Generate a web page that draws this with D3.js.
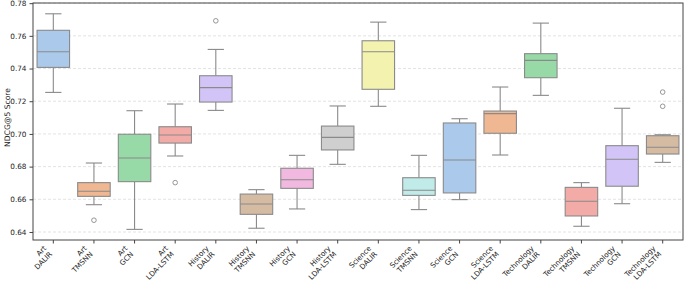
<!DOCTYPE html>
<html>
<head>
<meta charset="utf-8">
<script src="https://cdn.jsdelivr.net/npm/d3@7"></script>
<style>
  body { margin: 0; background: #fff; }
  svg { display: block; font-family: "DejaVu Sans", sans-serif; }
</style>
</head>
<body>
<div class="canvas"></div>
<script>
// box plot summaries (NDCG@5 per topic / model)
var topics = ['Art', 'Art', 'Art', 'Art', 'History', 'History', 'History', 'History',
              'Science', 'Science', 'Science', 'Science', 'Technology', 'Technology', 'Technology', 'Technology'];
var models = ['DALIR', 'TMSNN', 'GCN', 'LDA-LSTM', 'DALIR', 'TMSNN', 'GCN', 'LDA-LSTM',
              'DALIR', 'TMSNN', 'GCN', 'LDA-LSTM', 'DALIR', 'TMSNN', 'GCN', 'LDA-LSTM'];
var whiskerLow  = [0.7254, 0.6567, 0.6416, 0.6865, 0.7144, 0.6423, 0.6541, 0.6814,
                   0.7169, 0.6537, 0.6598, 0.6871, 0.7236, 0.6435, 0.6573, 0.6826];
var q1          = [0.7407, 0.6618, 0.6708, 0.6944, 0.7195, 0.6508, 0.6667, 0.6902,
                   0.7273, 0.6624, 0.6639, 0.7004, 0.7344, 0.6498, 0.6680, 0.6877];
var medians     = [0.7503, 0.6649, 0.6853, 0.6993, 0.7283, 0.6571, 0.6720, 0.6979,
                   0.7503, 0.6655, 0.6840, 0.7124, 0.7450, 0.6588, 0.6845, 0.6918];
var q3          = [0.7634, 0.6702, 0.6998, 0.7044, 0.7356, 0.6632, 0.6790, 0.7048,
                   0.7570, 0.6732, 0.7067, 0.7140, 0.7491, 0.6673, 0.6928, 0.6989];
var whiskerHigh = [0.7735, 0.6822, 0.7142, 0.7183, 0.7517, 0.6659, 0.6869, 0.7171,
                   0.7684, 0.6869, 0.7093, 0.7287, 0.7678, 0.6702, 0.7157, 0.6995];
var outliers    = [[], [0.6472], [], [0.6702], [0.7692], [], [], [],
                   [], [], [], [], [], [], [], [0.7256, 0.7169]];
var yTicks = [0.64, 0.66, 0.68, 0.70, 0.72, 0.74, 0.76, 0.78];
var palette = ['#a1c9f4', '#ffb482', '#8de5a1', '#ff9f9b', '#d0bbff',
               '#debb9b', '#fab0e4', '#cfcfcf', '#fffea3', '#b9f2f0'];

var width = 685, height = 281;
var plotLeft = 33, plotRight = 683, plotTop = 3, plotBottom = 240;
var fs = 7.2;
var lineColor = '#8a8a8a';

var data = topics.map(function(t, i) {
  return { key: t + ' ' + models[i], topic: t, model: models[i],
           lo: whiskerLow[i], q1: q1[i], med: medians[i], q3: q3[i], hi: whiskerHigh[i],
           out: outliers[i], i: i };
});

var svg = d3.select('.canvas')
  .append('svg')
  .attr('width', width)
  .attr('height', height);

var xscale = d3.scaleBand()
  .domain(data.map(function(d) { return d.key; }))
  .range([plotLeft, plotRight])
  .padding(0);
var yscale = d3.scaleLinear()
  .domain([0.6351, 0.7801])
  .range([plotBottom, plotTop]);

// seaborn style desaturated pastel
function boxFill(i) {
  var c = d3.hsl(palette[i % palette.length]);
  c.s = c.s * 0.75;
  return c.formatHex();
}

// grid
svg.append('g')
  .selectAll('line')
  .data(yTicks)
  .enter()
  .append('line')
  .attr('x1', plotLeft).attr('x2', plotRight)
  .attr('y1', function(d) { return yscale(d); })
  .attr('y2', function(d) { return yscale(d); })
  .attr('stroke', '#dcdcdc')
  .attr('stroke-width', 0.8)
  .attr('stroke-dasharray', '3,2');

// y axis
var yaxis = d3.axisLeft(yscale)
  .tickValues(yTicks)
  .tickFormat(d3.format('.2f'))
  .tickSize(3.5)
  .tickPadding(3);
var gy = svg.append('g')
  .attr('transform', 'translate(' + plotLeft + ',0)')
  .call(yaxis);
gy.select('.domain').remove();
gy.selectAll('line').attr('stroke', '#444');
gy.selectAll('text').attr('font-size', 7.3).attr('fill', '#222')
  .attr('font-family', '"DejaVu Sans", sans-serif');

// x axis, labels drawn by hand below
var xaxis = d3.axisBottom(xscale).tickSize(3.5).tickFormat('');
var gx = svg.append('g')
  .attr('transform', 'translate(0,' + plotBottom + ')')
  .call(xaxis);
gx.select('.domain').remove();
gx.selectAll('line').attr('stroke', '#444');

var c45 = Math.SQRT1_2;
var lh = fs * 1.15, asc = fs * 0.76, desc = fs * 0.24;
var labels = svg.append('g').selectAll('text')
  .data(data)
  .enter()
  .append('text')
  .attr('font-size', fs)
  .attr('fill', '#222')
  .attr('text-anchor', 'end')
  .attr('transform', function(d) {
    var tx = xscale(d.key) + xscale.bandwidth() / 2 - (lh + desc) * c45 + 0.5;
    var ty = plotBottom + 5 + asc * c45;
    return 'translate(' + tx + ',' + ty + ') rotate(-45)';
  });
labels.append('tspan').attr('x', 0).attr('y', 0).text(function(d) { return d.topic; });
labels.append('tspan').attr('x', 0).attr('y', lh).text(function(d) { return d.model; });

// boxes
var bw = xscale.bandwidth() * 0.8;
var boxes = svg.append('g').selectAll('g')
  .data(data)
  .enter()
  .append('g')
  .attr('transform', function(d) { return 'translate(' + (xscale(d.key) + xscale.bandwidth() / 2) + ',0)'; });

boxes.append('line')
  .attr('x1', 0).attr('x2', 0)
  .attr('y1', function(d) { return yscale(d.hi); })
  .attr('y2', function(d) { return yscale(d.q3); })
  .attr('stroke', lineColor).attr('stroke-width', 1.1);
boxes.append('line')
  .attr('x1', 0).attr('x2', 0)
  .attr('y1', function(d) { return yscale(d.q1); })
  .attr('y2', function(d) { return yscale(d.lo); })
  .attr('stroke', lineColor).attr('stroke-width', 1.1);
boxes.append('line')
  .attr('x1', -bw / 4).attr('x2', bw / 4)
  .attr('y1', function(d) { return yscale(d.hi); })
  .attr('y2', function(d) { return yscale(d.hi); })
  .attr('stroke', lineColor).attr('stroke-width', 1.1);
boxes.append('line')
  .attr('x1', -bw / 4).attr('x2', bw / 4)
  .attr('y1', function(d) { return yscale(d.lo); })
  .attr('y2', function(d) { return yscale(d.lo); })
  .attr('stroke', lineColor).attr('stroke-width', 1.1);
boxes.append('rect')
  .attr('x', -bw / 2)
  .attr('width', bw)
  .attr('y', function(d) { return yscale(d.q3); })
  .attr('height', function(d) { return yscale(d.q1) - yscale(d.q3); })
  .attr('fill', function(d) { return boxFill(d.i); })
  .attr('stroke', lineColor).attr('stroke-width', 1.1);
boxes.append('line')
  .attr('x1', -bw / 2).attr('x2', bw / 2)
  .attr('y1', function(d) { return yscale(d.med); })
  .attr('y2', function(d) { return yscale(d.med); })
  .attr('stroke', lineColor).attr('stroke-width', 1.1);
boxes.selectAll('circle')
  .data(function(d) { return d.out; })
  .enter()
  .append('circle')
  .attr('cx', 0)
  .attr('cy', function(v) { return yscale(v); })
  .attr('r', 2.3)
  .attr('fill', 'none')
  .attr('stroke', lineColor).attr('stroke-width', 0.9);

// frame
svg.append('rect')
  .attr('x', plotLeft).attr('y', plotTop)
  .attr('width', plotRight - plotLeft).attr('height', plotBottom - plotTop)
  .attr('fill', 'none')
  .attr('stroke', '#444')
  .attr('stroke-width', 1);

// y label
svg.append('text')
  .attr('transform', 'translate(10,' + ((plotTop + plotBottom) / 2 - 4) + ') rotate(-90)')
  .attr('text-anchor', 'middle')
  .attr('font-size', 7.6)
  .attr('fill', '#222')
  .text('NDCG@5 Score');
</script>
</body>
</html>
